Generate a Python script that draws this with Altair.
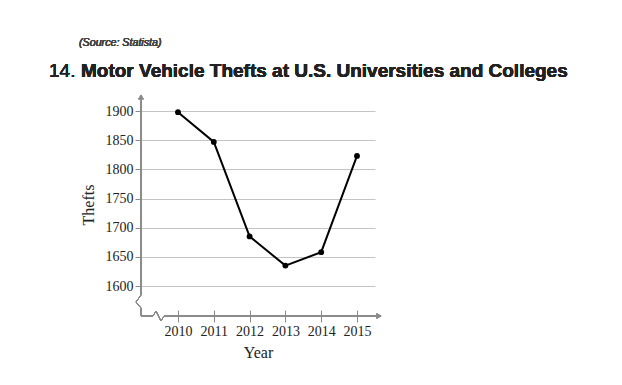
import altair as alt
import pandas as pd

years = [2010, 2011, 2012, 2013, 2014, 2015]
thefts = [1898, 1847, 1685, 1635, 1658, 1823]
y_ticks = [1600, 1650, 1700, 1750, 1800, 1850, 1900]

df = pd.DataFrame({"Year": years, "Thefts": thefts})

W, H = 234, 223
AX = "#8a8a8a"
SERIF = "Liberation Serif"
SANS = "Liberation Sans"

xs = alt.Scale(domain=[2008.967, 2015.503], nice=False, zero=False)
ys = alt.Scale(domain=[1548.6, 1930.9], nice=False, zero=False)

base = alt.Chart(df)

line = base.mark_line(color="black", strokeWidth=2).encode(
    x=alt.X("Year:Q", scale=xs,
            axis=alt.Axis(values=years, tickCount=20, format="d", domain=False,
                          grid=False, ticks=True, tickSize=12, tickColor=AX,
                          offset=-6, labelOverlap=False,
                          labelFont=SERIF, labelFontSize=14, labelColor="#222",
                          labelPadding=2, title="Year", titleFont=SERIF,
                          titleFontSize=16, titleFontWeight="normal",
                          titleColor="#222", titlePadding=6)),
    y=alt.Y("Thefts:Q", scale=ys,
            axis=alt.Axis(values=y_ticks, tickCount=20, format="d",
                          domain=False, grid=True, labelOverlap=False,
                          gridColor="#c4c4c4", ticks=True, tickSize=6,
                          tickColor=AX, labelFont=SERIF, labelFontSize=14,
                          labelColor="#222", labelPadding=2, title="Thefts",
                          titleFont=SERIF, titleFontSize=16,
                          titleFontWeight="normal", titleColor="#222",
                          titlePadding=9)),
)
pts = base.mark_circle(color="black", size=34, opacity=1).encode(
    x=alt.X("Year:Q", scale=xs), y=alt.Y("Thefts:Q", scale=ys))


def seg(x1, y1, x2, y2):
    return alt.Chart(df).mark_rule(color=AX, strokeWidth=1).encode(
        x=alt.value(x1), y=alt.value(y1), x2=alt.value(x2), y2=alt.value(y2))


axes_parts = [
    seg(0, 4, 0, 202),
    seg(0, 202, -5, 209),
    seg(-5, 209, 0, 215),
    seg(0, 215, 0, H),
    seg(0, H, 12, H),
    seg(12, H, 15, H - 5),
    seg(15, H - 5, 20, H + 5),
    seg(20, H + 5, 23, H),
    seg(23, H, 238, H),
]

arrow_up = alt.Chart(df).mark_point(shape="triangle-up", filled=True, color=AX,
                                    size=30, opacity=1).encode(
    x=alt.value(0), y=alt.value(4))
arrow_right = alt.Chart(df).mark_point(shape="triangle-right", filled=True,
                                       color=AX, size=30, opacity=1).encode(
    x=alt.value(238), y=alt.value(H))

source = alt.Chart(df).mark_text(text="(Source: Statista)", font=SANS,
                                 fontSize=10.7, fontStyle="italic",
                                 fontWeight="normal",
                                 color="#444", align="left",
                                 baseline="alphabetic").encode(
    x=alt.value(-62), y=alt.value(-47))
num = alt.Chart(df).mark_text(text="14.", font=SANS, fontSize=19,
                              fontWeight="normal",
                              color="#222", align="left",
                              baseline="alphabetic").encode(
    x=alt.value(-92), y=alt.value(-16))
title = alt.Chart(df).mark_text(text="Motor Vehicle Thefts at U.S. Universities and Colleges",
                                font=SANS, fontSize=19, fontWeight="bold",
                                color="#222", align="left",
                                baseline="alphabetic").encode(
    x=alt.value(-60), y=alt.value(-16))

chart = alt.layer(line, pts, *axes_parts, arrow_up, arrow_right, source, num,
                  title).properties(
    width=W, height=H,
    autosize=alt.AutoSizeParams(type="none"),
    padding={"left": 133, "top": 85, "right": 230, "bottom": 50},
).configure(background="white").configure_view(stroke=None)

chart.save("out.html", embed_options={"renderer": "svg", "actions": False})
